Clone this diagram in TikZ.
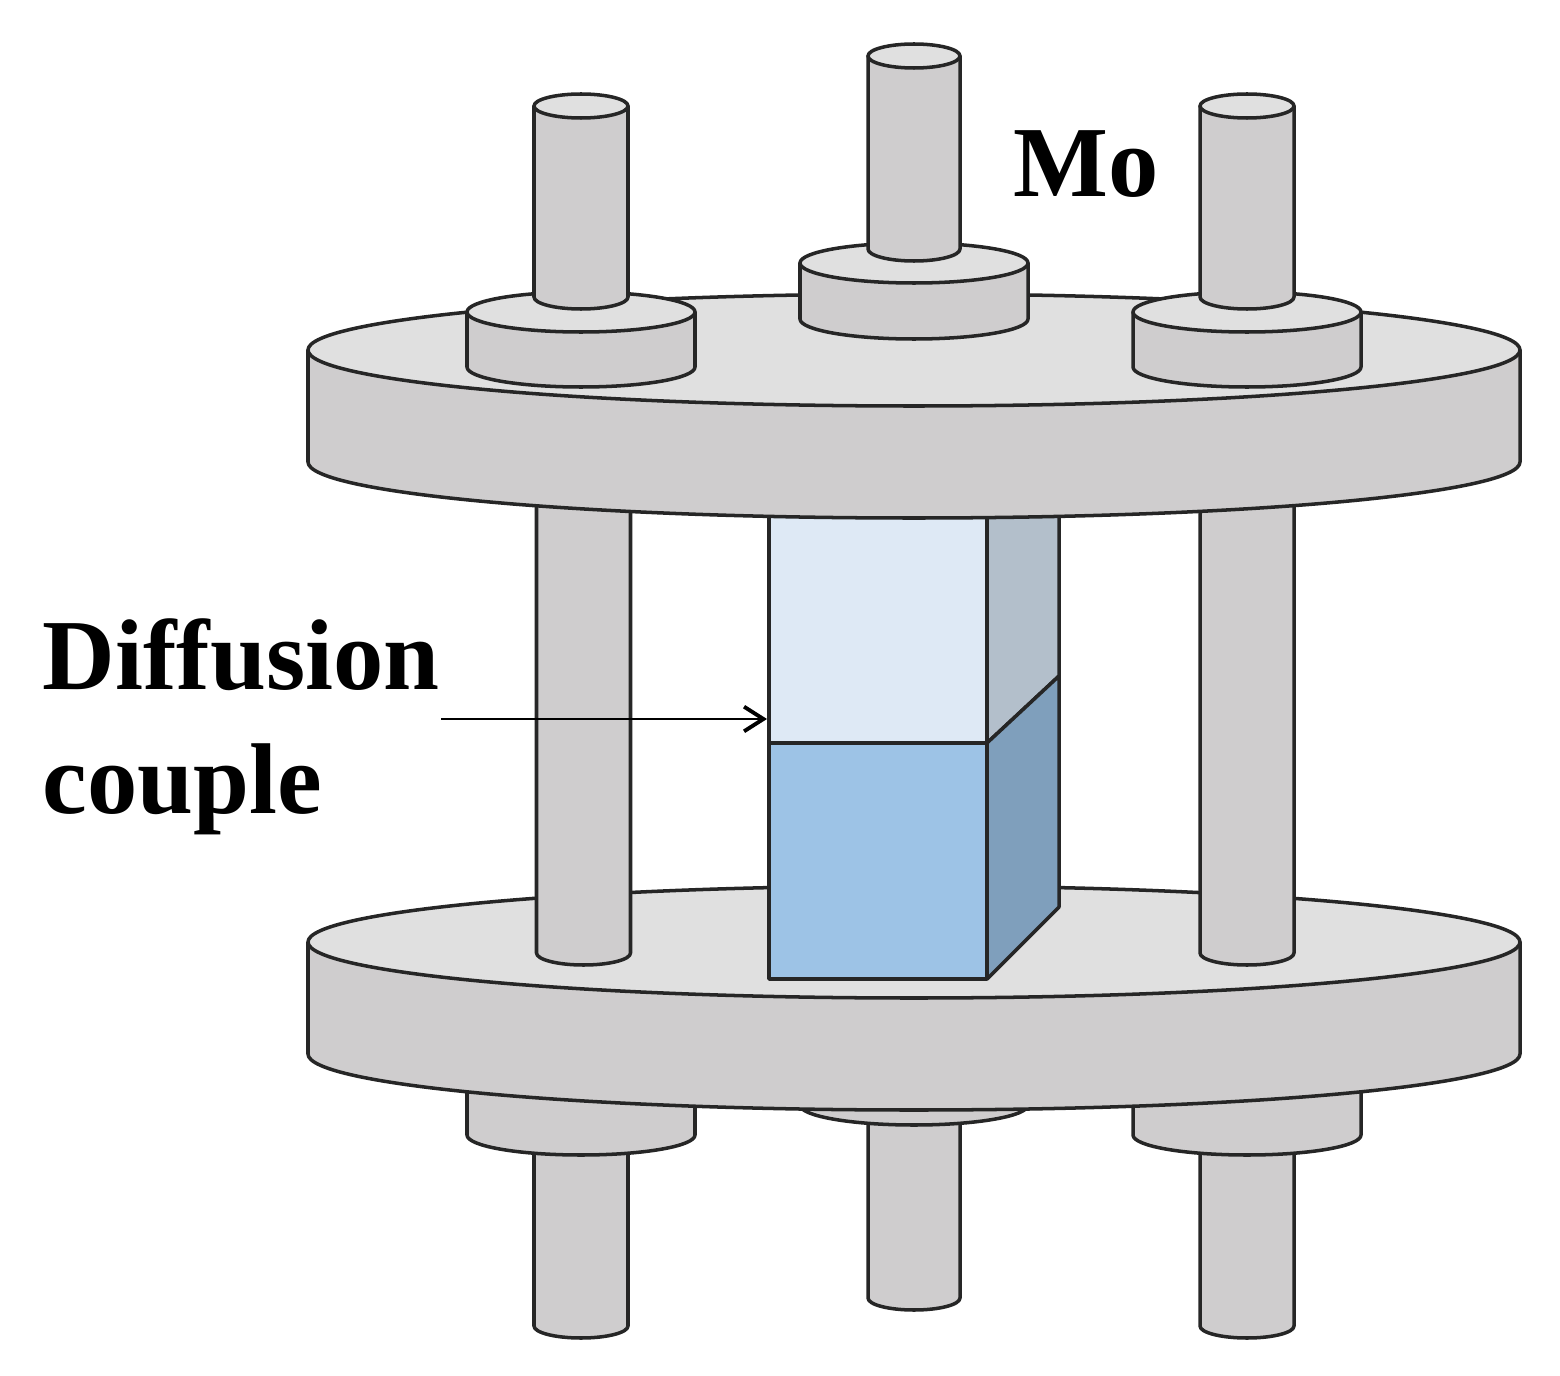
\documentclass[tikz,border=0pt]{standalone}
\usepackage{fontspec}
\setmainfont{Liberation Serif}
\usepackage{tikz}
\usetikzlibrary{arrows.meta}
\definecolor{sidegray}{HTML}{CFCDCE}
\definecolor{topgray}{HTML}{E0E0E0}
\definecolor{lightblue}{HTML}{DEE9F5}
\definecolor{lightside}{HTML}{B3BFCB}
\definecolor{midblue}{HTML}{9DC3E6}
\definecolor{midside}{HTML}{7F9FBC}
\tikzset{
    part/.style={draw=black!85,line width=1pt,line join=round},
    label/.style={font=\bfseries\fontsize{28.6pt}{35.2pt}\selectfont,inner sep=0pt,align=left}
}
% side of a cylinder: x, top y, bottom y, x radius, y radius
\newcommand{\cylside}[5]{
    \draw[part,fill=sidegray] (#1-#4,#2) -- (#1-#4,#3) arc[start angle=180,end angle=0,x radius=#4,y radius=#5] -- (#1+#4,#2) -- cycle;
}
% the same with its top face
\newcommand{\cylfull}[5]{
    \cylside{#1}{#2}{#3}{#4}{#5}
    \draw[part,fill=topgray] (#1,#2) ellipse[x radius=#4,y radius=#5];
}
\begin{document}
\begin{tikzpicture}[x=0.01cm,y=-0.01cm]
    \useasboundingbox (0,0) rectangle (1560,1376);
    % below the lower plate
    \cylside{581}{1130}{1326}{47}{12}
    \cylside{914}{1100}{1298}{46}{12}
    \cylside{1247}{1130}{1326}{47}{12}
    \cylside{581}{1080}{1135}{114}{20}
    \cylside{914}{1080}{1105}{114}{20}
    \cylside{1247}{1080}{1135}{114}{20}
    % lower plate
    \cylfull{914}{942}{1054}{606}{56}
    % pillars
    \cylside{583.5}{500}{953}{47}{12}
    \cylside{1247}{500}{953}{47}{12}
    % diffusion couple
    \draw[part,fill=lightblue] (769,510) rectangle (987,743);
    \draw[part,fill=lightside] (987,510) -- (1059,510) -- (1059,676) -- (987,743) -- cycle;
    \draw[part,fill=midblue] (769,743) rectangle (987,979);
    \draw[part,fill=midside] (987,743) -- (1059,676) -- (1059,907) -- (987,979) -- cycle;
    % upper plate
    \cylfull{914}{350}{462}{606}{56}
    % collars and rods on top
    \foreach \cx in {581,1247}{
        \cylfull{\cx}{312}{367}{114}{20}
        \cylfull{\cx}{106}{297}{47}{12}
    }
    \cylfull{914}{263}{319}{114}{20}
    \cylfull{914}{56}{249}{46}{12}
    % labels
    \node[label,anchor=base west] (molabel) at (1013,197) {Mo};
    \node[label,anchor=west] (couplelabel) at (42,727) {Diffusion\\couple};
    \coordinate (arrowstart) at (441,719);
    \coordinate (arrowend) at (767,719);
    \draw[line width=0.8pt,-{Straight Barb[length=5.5pt,width=7pt,line width=1.1pt]}] (arrowstart) -- (arrowend);
\end{tikzpicture}
\end{document}
